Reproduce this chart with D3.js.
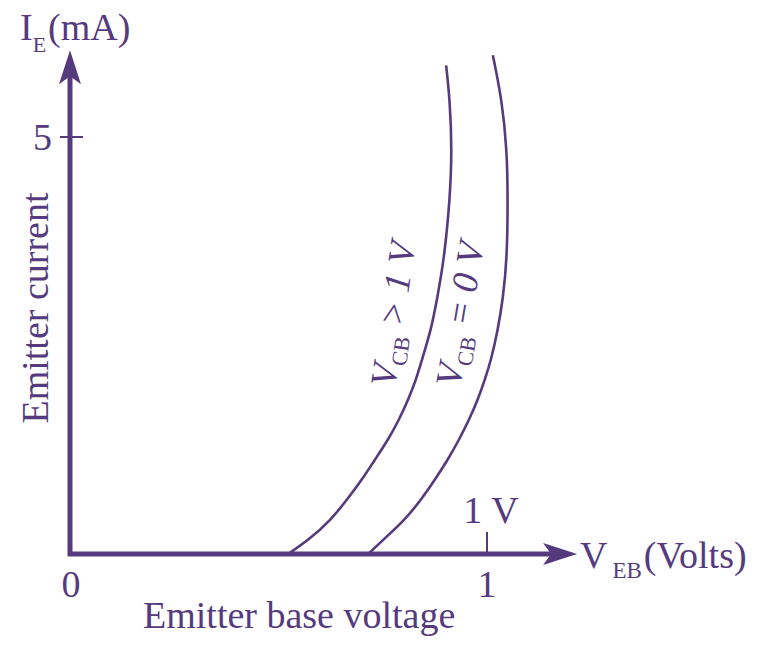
<!DOCTYPE html>
<meta charset="utf-8">
<title>Emitter input characteristics</title>
<body>
<script src="https://cdn.jsdelivr.net/npm/d3@7"></script>
<style>
html, body {
    margin: 0;
    background: #fff;
}
svg {
    display: block;
}
text {
    font-family: "Liberation Serif", "DejaVu Serif", serif;
    fill: #553b7e;
}
</style>
<script>
var width = 768,
    height = 655,
    ink = "#553b7e";

// emitter current (mA) steps, and emitter base voltage (V) on each curve
var ieHigh  = [0,     0.17,  0.41,  0.65,  0.89,  1.13,  1.37,  1.61,  1.85,  2.09,  2.33,  2.69,  3.05,  3.53,  4.24,  4.84,  5.44,  5.86],
    vebHigh = [0.523, 0.573, 0.626, 0.664, 0.700, 0.731, 0.763, 0.789, 0.811, 0.830, 0.844, 0.866, 0.880, 0.897, 0.911, 0.916, 0.911, 0.902];

var ieZero  = [0,     0.17,  0.41,  0.65,  0.89,  1.13,  1.37,  1.61,  1.85,  2.09,  2.33,  2.69,  3.05,  3.53,  4.24,  4.84,  5.44,  5.98],
    vebZero = [0.715, 0.751, 0.803, 0.842, 0.875, 0.906, 0.933, 0.957, 0.978, 0.995, 1.010, 1.026, 1.038, 1.048, 1.050, 1.048, 1.036, 1.014];

var xTicks = [1],
    yTicks = [5],
    xEnd = 1.216,
    yEnd = 6.04;

var x = d3.scaleLinear().domain([0, 1]).range([70, 487]),
    y = d3.scaleLinear().domain([0, 5]).range([554, 137]);

var svg = d3.select("body").append("svg")
    .attr("width", width)
    .attr("height", height);

function zip(vs, is) {
    return vs.map(function(v, k) { return { v: v, i: is[k] }; });
}

var line = d3.line()
    .x(function(d) { return x(d.v); })
    .y(function(d) { return y(d.i); })
    .curve(d3.curveBasis);

svg.selectAll("path.curve")
    .data([zip(vebHigh, ieHigh), zip(vebZero, ieZero)])
    .enter().append("path")
    .attr("class", "curve")
    .attr("d", line)
    .attr("fill", "none")
    .attr("stroke", ink)
    .attr("stroke-width", 2.6);

// axes
var x0 = x(0), y0 = y(0), xt = x(xEnd), yt = y(yEnd);

svg.append("path")
    .attr("d", "M" + x0 + "," + (yt + 20) + "V" + y0 + "H" + (xt - 20))
    .attr("fill", "none")
    .attr("stroke", ink)
    .attr("stroke-width", 5)
    .attr("stroke-linejoin", "miter");

// arrow heads
svg.append("path")
    .attr("d", "M" + x0 + "," + yt + "L" + (x0 + 11) + "," + (yt + 34) + "L" + x0 + "," + (yt + 26) + "L" + (x0 - 11) + "," + (yt + 34) + "Z")
    .attr("fill", ink);
svg.append("path")
    .attr("d", "M" + xt + "," + y0 + "L" + (xt - 34) + "," + (y0 - 11) + "L" + (xt - 26) + "," + y0 + "L" + (xt - 34) + "," + (y0 + 11) + "Z")
    .attr("fill", ink);

// ticks
svg.selectAll("line.xtick")
    .data(xTicks)
    .enter().append("line")
    .attr("x1", x).attr("x2", x)
    .attr("y1", y0 - 22).attr("y2", y0)
    .attr("stroke", ink)
    .attr("stroke-width", 2);

svg.selectAll("line.ytick")
    .data(yTicks)
    .enter().append("line")
    .attr("y1", y).attr("y2", y)
    .attr("x1", x0 - 10).attr("x2", x0 + 13)
    .attr("stroke", ink)
    .attr("stroke-width", 2);

svg.selectAll("text.xlab")
    .data(xTicks)
    .enter().append("text")
    .attr("x", x)
    .attr("y", 597)
    .attr("text-anchor", "middle")
    .style("font-size", "38px")
    .text(function(d) { return d; });

svg.selectAll("text.ylab")
    .data(yTicks)
    .enter().append("text")
    .attr("x", x0 - 18)
    .attr("y", function(d) { return y(d) + 13; })
    .attr("text-anchor", "end")
    .style("font-size", "38px")
    .text(function(d) { return d; });

svg.append("text")
    .attr("x", x0 + 1)
    .attr("y", 597)
    .attr("text-anchor", "middle")
    .style("font-size", "38px")
    .text("0");

svg.append("text")
    .attr("x", x(1) + 4)
    .attr("y", 523)
    .attr("text-anchor", "middle")
    .style("font-size", "38px")
    .text("1 V");

// axis titles
var t = svg.append("text")
    .attr("x", 20)
    .attr("y", 40)
    .style("font-size", "38px");
t.append("tspan").text("I");
t.append("tspan").attr("dy", 12).style("font-size", "22px").text("E");
t.append("tspan").attr("dy", -12).attr("dx", 2).text("(mA)");

t = svg.append("text")
    .attr("x", 580)
    .attr("y", 568)
    .style("font-size", "38px");
t.append("tspan").text("V");
t.append("tspan").attr("dy", 10).attr("dx", 5).style("font-size", "23px").text("EB");
t.append("tspan").attr("dy", -10).attr("dx", 2).text("(Volts)");

svg.append("text")
    .attr("x", 143)
    .attr("y", 628)
    .style("font-size", "38px")
    .text("Emitter base voltage");

svg.append("text")
    .attr("transform", "translate(48,308) rotate(-90)")
    .attr("text-anchor", "middle")
    .style("font-size", "38px")
    .text("Emitter current");

// curve labels
function curveLabel(px, py, angle, rest) {
    var g = svg.append("text")
        .attr("transform", "translate(" + px + "," + py + ") rotate(" + angle + ")")
        .style("font-size", "37px")
        .style("font-style", "italic");
    g.append("tspan").text("V");
    g.append("tspan").attr("dy", 8).style("font-size", "22px").style("font-style", "normal").text("CB");
    g.append("tspan").attr("dy", -8).text(rest);
}
curveLabel(395, 388, -82, " > 1 V");
curveLabel(460, 388, -80.5, " = 0 V");
</script>
